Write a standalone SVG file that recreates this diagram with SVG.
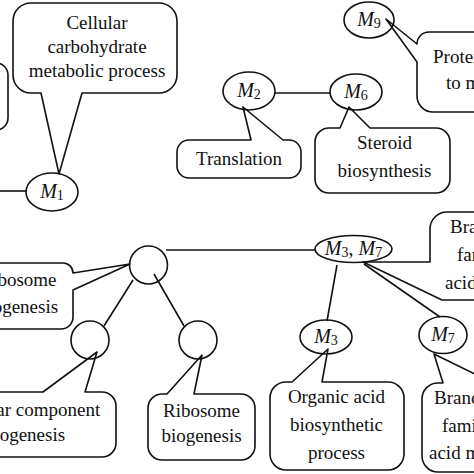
<svg xmlns="http://www.w3.org/2000/svg" width="474" height="474" viewBox="0 0 474 474">
<style>
.ln{stroke:#111;stroke-width:1.6;fill:none}
.co{stroke:#111;stroke-width:1.6;fill:#fff;stroke-linejoin:round}
.nd{stroke:#111;stroke-width:1.6;fill:none}
.t{font-family:"Liberation Serif","Times New Roman",serif;font-size:19px;fill:#111}
.m{font-family:"Liberation Serif","Times New Roman",serif;font-size:20px;fill:#111}
.i{font-style:italic}
</style>
<rect width="474" height="474" fill="#fff"/>
<g id="connectors">
<line class="ln" x1="0" y1="191" x2="26" y2="191"/>
<line class="ln" x1="275" y1="93" x2="330" y2="93"/>
<line class="ln" x1="166" y1="250" x2="315" y2="250"/>
<line class="ln" x1="133" y1="280" x2="104" y2="326"/>
<line class="ln" x1="154" y1="274" x2="184" y2="326"/>
<line class="ln" x1="337" y1="265" x2="327" y2="321"/>
<line class="ln" x1="364" y1="264" x2="440" y2="317"/>
</g>
<g id="callout-cellular-carbohydrate">
<path class="co" d="M31,3 H159 A18,18 0 0 1 177,21 V75 A18,18 0 0 1 159,93 H82 L59,174 L41,93 H31 A18,18 0 0 1 13,75 V21 A18,18 0 0 1 31,3 Z"/>
<text class="t" text-anchor="middle" x="97" y="29">Cellular</text>
<text class="t" text-anchor="middle" x="97" y="53">carbohydrate</text>
<text class="t" text-anchor="middle" x="97" y="77">metabolic process</text>
</g>
<g id="callout-left-top">
<rect class="co" x="-30" y="63" width="38" height="67" rx="12"/>
</g>
<g id="callout-translation">
<path class="co" d="M189,140 H251 L243,107 L283,140 H289 A12,12 0 0 1 301,152 V166 A12,12 0 0 1 289,178 H189 A12,12 0 0 1 177,166 V152 A12,12 0 0 1 189,140 Z"/>
<text class="t" text-anchor="middle" x="239" y="165">Translation</text>
</g>
<g id="callout-steroid">
<path class="co" d="M329,128 H340 L349,107 L370,128 H436 A14,14 0 0 1 450,142 V179 A14,14 0 0 1 436,193 H329 A14,14 0 0 1 315,179 V142 A14,14 0 0 1 329,128 Z"/>
<text class="t" text-anchor="middle" x="384.5" y="149">Steroid</text>
<text class="t" text-anchor="middle" x="384.5" y="177">biosynthesis</text>
</g>
<g id="callout-protein">
<path class="co" d="M429,32 H500 V112 H433 A16,16 0 0 1 417,96 V62 L386,19 L417,44 A12,12 0 0 1 429,32 Z"/>
<text class="t" x="433" y="63">Protein</text>
<text class="t" x="446" y="89">to membrane</text>
</g>
<g id="callout-branched-upper">
<path class="co" d="M447,212 H500 V300 H442 L363,262 H430 V229 A17,17 0 0 1 447,212 Z"/>
<text class="t" x="450" y="233">Branched-chain</text>
<text class="t" x="457" y="261">family amino</text>
<text class="t" x="445" y="289">acid metabolic process</text>
</g>
<g id="callout-ribosome-left">
<path class="co" d="M-60,263 H63 A10,10 0 0 1 73,273 L130,264 L73,290 V317 A12,12 0 0 1 61,329 H-60 Z"/>
<text class="t" text-anchor="middle" x="18" y="286">Ribosome</text>
<text class="t" text-anchor="middle" x="18" y="313">biogenesis</text>
</g>
<g id="callout-cellular-component">
<path class="co" d="M-60,392 H43 L97,352 L85,392 H102 A14,14 0 0 1 116,406 V443 A14,14 0 0 1 102,457 H-60 Z"/>
<text class="t" text-anchor="middle" x="25" y="416">Cellular component</text>
<text class="t" text-anchor="middle" x="25" y="441">biogenesis</text>
</g>
<g id="callout-ribosome-right">
<path class="co" d="M162,394 H167 L202,355 L194,394 H241 A14,14 0 0 1 255,408 V446 A14,14 0 0 1 241,460 H162 A14,14 0 0 1 148,446 V408 A14,14 0 0 1 162,394 Z"/>
<text class="t" text-anchor="middle" x="201.5" y="417">Ribosome</text>
<text class="t" text-anchor="middle" x="201.5" y="442">biogenesis</text>
</g>
<g id="callout-organic-acid">
<path class="co" d="M286,382 H292 L328,349 L322,382 H388 A16,16 0 0 1 404,398 V454 A16,16 0 0 1 388,470 H286 A16,16 0 0 1 270,454 V398 A16,16 0 0 1 286,382 Z"/>
<text class="t" text-anchor="middle" x="336.5" y="403">Organic acid</text>
<text class="t" text-anchor="middle" x="336.5" y="431">biosynthetic</text>
<text class="t" text-anchor="middle" x="336.5" y="459">process</text>
</g>
<g id="callout-branched-lower">
<path class="co" d="M438,383 H443 L434,354 L493,383 H500 V472 H438 A16,16 0 0 1 422,456 V399 A16,16 0 0 1 438,383 Z"/>
<text class="t" x="434" y="404">Branched-chain</text>
<text class="t" x="442" y="432">family amino</text>
<text class="t" x="429" y="459">acid metabolic process</text>
</g>
<g id="node-M1">
<ellipse class="nd" cx="52" cy="192" rx="26" ry="19"/>
<text class="m" text-anchor="middle" x="52" y="198"><tspan class="i">M</tspan><tspan font-size="14" dy="2">1</tspan></text>
</g>
<g id="node-M2">
<ellipse class="nd" cx="249" cy="91" rx="26" ry="19"/>
<text class="m" text-anchor="middle" x="249" y="97"><tspan class="i">M</tspan><tspan font-size="14" dy="2">2</tspan></text>
</g>
<g id="node-M6">
<ellipse class="nd" cx="356" cy="92" rx="26" ry="18"/>
<text class="m" text-anchor="middle" x="356" y="98"><tspan class="i">M</tspan><tspan font-size="14" dy="2">6</tspan></text>
</g>
<g id="node-M9">
<ellipse class="nd" cx="369" cy="20" rx="25" ry="18"/>
<text class="m" text-anchor="middle" x="369" y="26"><tspan class="i">M</tspan><tspan font-size="14" dy="2">9</tspan></text>
</g>
<g id="node-root">
<circle class="nd" cx="148.5" cy="265" r="19"/>
</g>
<g id="node-left-child">
<circle class="nd" cx="90" cy="340" r="19"/>
</g>
<g id="node-right-child">
<circle class="nd" cx="198" cy="340" r="19"/>
</g>
<g id="node-M3M7">
<ellipse class="nd" cx="353.5" cy="249" rx="38.5" ry="13.5"/>
<text class="m" text-anchor="middle" x="353.5" y="255"><tspan class="i">M</tspan><tspan font-size="14" dy="2">3</tspan><tspan dy="-2">, </tspan><tspan class="i">M</tspan><tspan font-size="14" dy="2">7</tspan></text>
</g>
<g id="node-M3">
<ellipse class="nd" cx="326" cy="337" rx="26" ry="17"/>
<text class="m" text-anchor="middle" x="326" y="343"><tspan class="i">M</tspan><tspan font-size="14" dy="2">3</tspan></text>
</g>
<g id="node-M7">
<ellipse class="nd" cx="443" cy="335" rx="24" ry="18.5"/>
<text class="m" text-anchor="middle" x="443" y="341"><tspan class="i">M</tspan><tspan font-size="14" dy="2">7</tspan></text>
</g>
</svg>
